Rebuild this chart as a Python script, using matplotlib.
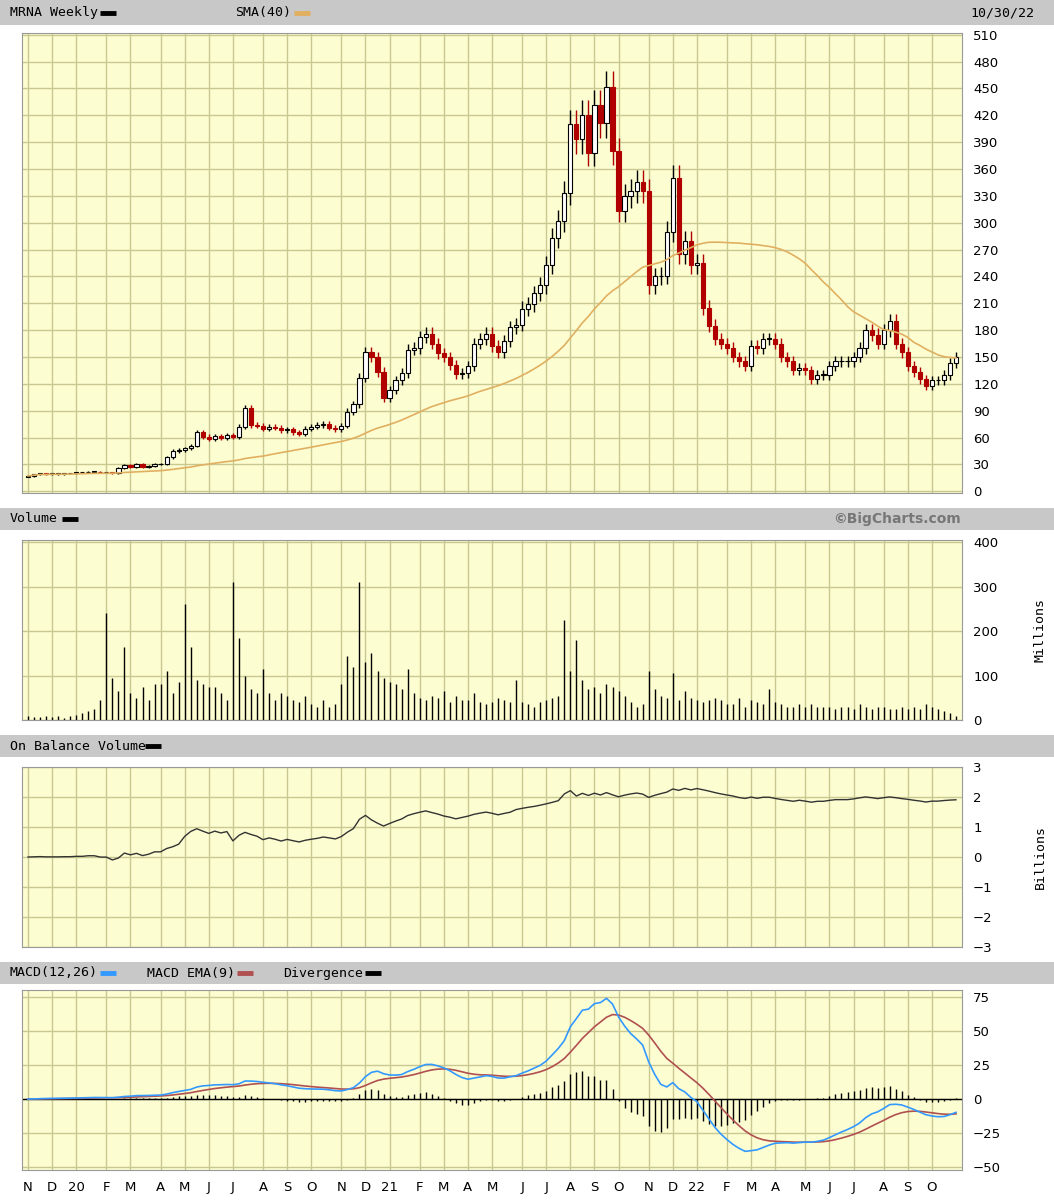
import numpy as np
import pandas as pd
import matplotlib
matplotlib.use("Agg")
import matplotlib.pyplot as plt

W, H = 1054, 1200

months = ["N", "D", "20", "F", "M", "A", "M", "J", "J", "A", "S", "O",
          "N", "D", "21", "F", "M", "A", "M", "J", "J", "A", "S", "O",
          "N", "D", "22", "F", "M", "A", "M", "J", "J", "A", "S", "O"]

# weekly closes, grouped by month
closes_by_month = [
    [17, 19, 20, 19], [19, 19, 20, 20], [21, 21, 22, 22, 21], [21, 20, 26, 29],
    [27, 30, 27, 28, 30], [30, 38, 45, 46], [48, 51, 66, 61], [58, 62, 60, 63],
    [61, 72, 93, 74, 73], [70, 72, 71, 68], [69, 66, 64, 70], [72, 74, 75, 71, 69],
    [73, 89, 97, 127], [155, 150, 133, 104], [113, 124, 132, 158, 160], [172, 176, 165, 154],
    [150, 141, 131, 132], [140, 165, 170, 176], [162, 155, 168, 183, 186], [204, 209, 221, 230],
    [253, 283, 302, 333], [410, 393, 420, 378], [431, 411, 452, 380], [313, 330, 335, 345, 335],
    [230, 240, 241, 290], [350, 265, 280, 253], [255, 205, 185, 170, 165], [160, 150, 145, 140],
    [162, 160, 170, 170], [165, 150, 145, 135, 138], [135, 125, 130, 130], [140, 145, 145, 145],
    [150, 160, 180, 175, 165], [180, 190, 165, 155], [140, 133, 125, 118], [124, 124, 130, 143, 150],
]

# weekly volume in millions, grouped by month
volume_by_month = [
    [8, 7, 6, 8], [6, 10, 5, 8], [12, 15, 20, 25, 45], [240, 95, 65, 165],
    [60, 50, 75, 45, 80], [80, 110, 60, 85], [260, 165, 90, 80], [75, 75, 60, 45],
    [310, 185, 100, 70, 60], [115, 60, 45, 60], [55, 45, 40, 55], [35, 30, 45, 30, 35],
    [80, 145, 120, 310], [130, 150, 110, 95], [85, 80, 70, 115, 60], [50, 45, 55, 50],
    [65, 40, 55, 45], [45, 60, 40, 35], [40, 50, 45, 40, 90], [40, 35, 30, 40],
    [45, 50, 55, 225], [110, 180, 90, 70], [75, 60, 80, 75], [65, 55, 40, 30, 35],
    [110, 70, 55, 50], [105, 45, 65, 50], [45, 40, 45, 50, 45], [35, 35, 50, 30],
    [45, 40, 35, 70], [40, 35, 30, 30, 35], [30, 35, 30, 30], [30, 25, 30, 30],
    [25, 35, 30, 25, 30], [30, 25, 25, 30], [25, 30, 25, 35], [30, 25, 20, 15, 10],
]

close = pd.Series([c for m in closes_by_month for c in m], dtype=float)
volume = pd.Series([v for m in volume_by_month for v in m], dtype=float)
month_starts = np.cumsum([0] + [len(m) for m in closes_by_month[:-1]])
n = len(close)
x = np.arange(n)

opn = close.shift(1).fillna(close.iloc[0] * 0.95)
high = np.maximum(opn, close) * 1.04
low = np.minimum(opn, close) * 0.96
sma = close.rolling(40, min_periods=1).mean()

sign = np.sign(close.diff().fillna(0))
obv = (sign * volume).cumsum() / 1000.0

ema12 = close.ewm(span=12, adjust=False).mean()
ema26 = close.ewm(span=26, adjust=False).mean()
macd = ema12 - ema26
signal = macd.ewm(span=9, adjust=False).mean()
div = macd - signal

BG = "#fdfdd2"
GRID = "#c8c890"
BAR = "#c8c8c8"
mono = "DejaVu Sans Mono"

fig = plt.figure(figsize=(W / 100, H / 100), dpi=100)


def rect(x0, y0, x1, y1):
    return [x0 / W, 1 - y1 / H, (x1 - x0) / W, (y1 - y0) / H]


def label_bar(y0, y1, items, right=None):
    # items: (pixel x, text, swatch colour)
    a = fig.add_axes(rect(0, y0, W, y1))
    a.set_facecolor(BAR)
    a.set_xlim(0, W); a.set_ylim(0, 1)
    a.set_xticks([]); a.set_yticks([])
    for s in a.spines.values():
        s.set_visible(False)
    for px, txt, col in items:
        t = a.text(px, 0.5, txt, fontsize=9.5, family=mono, va="center")
        sw = px + len(txt) * 7.6 + 6
        a.plot([sw, sw + 16], [0.5, 0.5], color=col, lw=3.5, solid_capstyle="butt")
    if right:
        a.text(W - 93, 0.5, right, fontsize=10, fontweight="bold",
               color="#777777", va="center", ha="right")
    return a


def panel(y0, y1, ylo, yhi, ticks):
    a = fig.add_axes(rect(22, y0, 962, y1))
    a.set_facecolor(BG)
    a.set_xlim(-1, n)
    a.set_ylim(ylo, yhi)
    a.set_yticks(ticks)
    a.yaxis.tick_right()
    a.tick_params(axis="y", length=0, labelsize=9.5, pad=8)
    a.set_xticks(month_starts)
    a.tick_params(axis="x", length=0, labelbottom=False)
    a.grid(True, color=GRID, lw=1)
    a.set_axisbelow(True)
    for s in a.spines.values():
        s.set_color("#999999")
    return a


# header
hb = label_bar(0, 25, [(10, "MRNA Weekly", "black"), (235, "SMA(40)", "#e0b060")])
hb.text(W - 20, 0.5, "10/30/22", fontsize=9.5, family=mono, va="center", ha="right")

# price
ax1 = panel(33, 493, -2, 512, np.arange(0, 511, 30))
up = close >= opn
for i in range(n):
    col = "white" if up[i] else "#b00000"
    ec = "black" if up[i] else "#b00000"
    ax1.vlines(x[i], low[i], high[i], color=ec, lw=1, zorder=2)
    b0, b1 = min(opn[i], close[i]), max(opn[i], close[i])
    ax1.bar(x[i], max(b1 - b0, 0.8), bottom=b0, width=0.7, color=col,
            edgecolor=ec, lw=0.8, zorder=3)
ax1.plot(x, sma, color="#e0b060", lw=1.2, zorder=4)

# volume
label_bar(508, 530, [(10, "Volume", "black")], "©BigCharts.com")
ax2 = panel(540, 720, 0, 405, [0, 100, 200, 300, 400])
ax2.vlines(x, 0, volume, color="black", lw=1)
fig.text(1040 / W, 1 - 630 / H, "Millions", rotation=90, fontsize=9.5, family=mono,
         ha="center", va="center")

# OBV
label_bar(735, 757, [(10, "On Balance Volume", "black")])
ax3 = panel(767, 947, -3, 3, np.arange(-3, 4, 1))
ax3.plot(x, obv, color="#333333", lw=1)
fig.text(1040 / W, 1 - 857 / H, "Billions", rotation=90, fontsize=9.5, family=mono,
         ha="center", va="center")

# MACD
label_bar(962, 984, [(10, "MACD(12,26)", "#3399ff"), (147, "MACD EMA(9)", "#b05050"),
                     (283, "Divergence", "black")])
ax4 = panel(990, 1170, -52, 80, [-50, -25, 0, 25, 50, 75])
ax4.axhline(0, color="black", lw=1)
ax4.vlines(x, 0, div, color="black", lw=1)
ax4.plot(x, signal, color="#b05050", lw=1.2)
ax4.plot(x, macd, color="#3399ff", lw=1.2)
ax4.set_xticklabels(months)
ax4.tick_params(axis="x", labelbottom=True, labelsize=9.5, pad=8)

fig.savefig("out.png", dpi=100, facecolor="white")
